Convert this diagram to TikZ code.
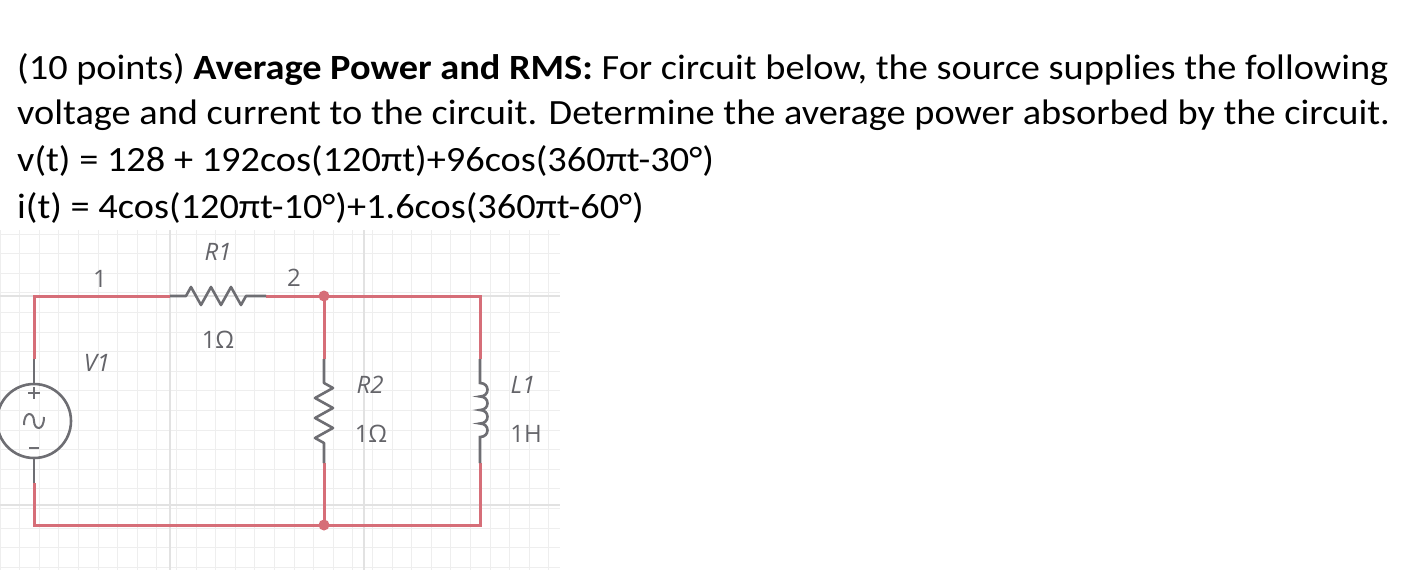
\documentclass[tikz,border=0pt]{standalone}
\usepackage{fontspec}
\setmainfont{Carlito}[FakeStretch=1.08]
\newfontfamily\lbl{Open Sans}
\definecolor{wire}{RGB}{214,110,120}
\definecolor{comp}{RGB}{110,110,115}
\definecolor{gridc}{RGB}{238,238,238}
\definecolor{gridm}{RGB}{226,226,226}
\definecolor{txtg}{RGB}{100,100,105}
\tikzset{
 w/.style={draw=wire,line width=3pt},
 c/.style={draw=comp,line width=2.6pt},
 q/.style={font=\lbl\fontsize{24}{28}\selectfont,text=txtg,inner sep=0pt},
 qi/.style={q,font=\lbl\itshape\fontsize{24}{28}\selectfont},
 ln/.style={anchor=west,inner sep=0pt,font=\fontsize{35.5}{40}\selectfont}
}
\begin{document}
\begin{tikzpicture}[x=1pt,y=-1pt]
\useasboundingbox (0,0) rectangle (1406,570);
\fill[white] (0,0) rectangle (1406,570);
% grid
\foreach \x in {0,19.6,...,560} \draw[gridc,line width=1pt] (\x,230) -- (\x,570);
\foreach \y in {234,253.6,...,570} \draw[gridc,line width=1pt] (0,\y) -- (560,\y);
\draw[gridm,line width=1.5pt] (170,230)--(170,570) (364,230)--(364,570) (0,296)--(560,296) (0,505)--(560,505);
% text
\node[ln] (t1) at (17,70) {(10 points) \textbf{Average Power and RMS:} For circuit below, the source supplies the following};
\node[ln] (t2) at (17,115) {voltage and current to the circuit. Determine the average power absorbed by the circuit.};
\node[ln] (t3) at (17,161) {v(t) = 128 + 192cos(120πt)+96cos(360πt-30°)};
\node[ln] (t4) at (17,208) {i(t) = 4cos(120πt-10°)+1.6cos(360πt-60°)};
% coordinates
\coordinate (tl) at (34,296);
\coordinate (bl) at (34,525);
\coordinate (n2) at (324,296);
\coordinate (n0) at (324,525);
\coordinate (tr) at (480,296);
\coordinate (br) at (480,525);
\coordinate (r1a) at (170,296);
\coordinate (r1b) at (266,296);
\coordinate (va) at (34,359);
\coordinate (vb) at (34,483);
\coordinate (r2a) at (324,359);
\coordinate (r2b) at (324,463);
\coordinate (l1a) at (480,359);
\coordinate (l1b) at (480,463);
% wires
\draw[w] (va) -- (tl) -- (r1a);
\draw[w] (r1b) -- (n2) -- (tr) -- (l1a);
\draw[w] (n2) -- (r2a);
\draw[w] (vb) -- (bl) -- (n0) -- (br) -- (l1b);
\draw[w] (r2b) -- (n0);
% R1
\draw[c,line join=round] (r1a) -- (186,296) -- (191,287) -- (201,305) -- (211,287) -- (221,305) -- (231,287) -- (241,305) -- (246,296) -- (r1b);
% R2
\draw[c,line join=round] (r2a) -- (324,383) -- (333,388) -- (315,398) -- (333,408) -- (315,418) -- (333,428) -- (315,438) -- (324,443) -- (r2b);
% L1
\draw[c] (l1a) -- (480,383)
  .. controls (490,383) and (490,396.5) .. (480,396.5)
  .. controls (490,396.5) and (490,410) .. (480,410)
  .. controls (490,410) and (490,423.5) .. (480,423.5)
  .. controls (490,423.5) and (490,437) .. (480,437)
  -- (l1b);
% source
\node[circle,draw=comp,line width=2.6pt,minimum size=74pt,inner sep=0pt] (V) at (34,421) {};
\draw[c] (va) -- (V.north) (V.south) -- (vb);
\draw[comp,line width=2pt] (34,387)--(34,399) (28,393)--(40,393) (29,448)--(39,448);
\draw[comp,line width=2pt] (24,425) .. controls (24,410) and (34,412) .. (34,421) .. controls (34,430) and (44,432) .. (44,417);
% dots
\fill[wire] (n2) circle (5.5pt) (n0) circle (5.5pt);
% labels
\node[q] (l1) at (100,279) {1};
\node[qi] (lr1) at (218,252) {R1};
\node[q] (l2) at (294,278) {2};
\node[q] (lr1v) at (218,340) {1Ω};
\node[qi] (lv1) at (97,363) {V1};
\node[qi] (lr2) at (370,385) {R2};
\node[q] (lr2v) at (371,434) {1Ω};
\node[qi] (ll1) at (523,385) {L1};
\node[q] (ll1v) at (526,434) {1H};
\end{tikzpicture}
\end{document}
